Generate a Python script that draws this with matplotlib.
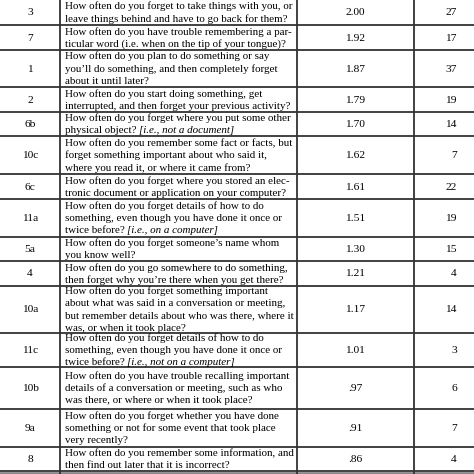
import matplotlib.pyplot as plt

plt.rcParams['font.family'] = ['Liberation Serif', 'DejaVu Serif']

ids = ["3", "7", "1", "2", "6b", "10c", "6c", "11a", "5a", "4", "10a", "11c", "10b", "9a", "8"]
questions = [
    "How often do you forget to take things with you, or\nleave things behind and have to go back for them?",
    "How often do you have trouble remembering a par-\nticular word (i.e. when on the tip of your tongue)?",
    "How often do you plan to do something or say\nyou\u2019ll do something, and then completely forget\nabout it until later?",
    "How often do you start doing something, get\ninterrupted, and then forget your previous activity?",
    "How often do you forget where you put some other\nphysical object? *[i.e., not a document]",
    "How often do you remember some fact or facts, but\nforget something important about who said it,\nwhere you read it, or where it came from?",
    "How often do you forget where you stored an elec-\ntronic document or application on your computer?",
    "How often do you forget details of how to do\nsomething, even though you have done it once or\ntwice before? *[i.e., on a computer]",
    "How often do you forget someone\u2019s name whom\nyou know well?",
    "How often do you go somewhere to do something,\nthen forget why you\u2019re there when you get there?",
    "How often do you forget something important\nabout what was said in a conversation or meeting,\nbut remember details about who was there, where it\nwas, or when it took place?",
    "How often do you forget details of how to do\nsomething, even though you have done it once or\ntwice before? *[i.e., not on a computer]",
    "How often do you have trouble recalling important\ndetails of a conversation or meeting, such as who\nwas there, or where or when it took place?",
    "How often do you forget whether you have done\nsomething or not for some event that took place\nvery recently?",
    "How often do you remember some information, and\nthen find out later that it is incorrect?",
]
means = ["2.00", "1.92", "1.87", "1.79", "1.70", "1.62", "1.61", "1.51", "1.30", "1.21", "1.17", "1.01", ".97", ".91", ".86"]
counts = ["27", "17", "37", "19", "14", "7", "22", "19", "15", "4", "14", "3", "6", "7", "4"]

# row boundaries in pixels (layout)
bounds = [-1, 25, 50, 87, 112, 136, 174, 199, 237, 261, 286, 333, 367, 409, 447, 471]
col_x = [60, 297, 414]
line_h = 12.4
fs = 7.9

fig = plt.figure(figsize=(4.74, 4.74), dpi=100)
ax = fig.add_axes([0, 0, 1, 1])
ax.set_xlim(0, 474)
ax.set_ylim(474, 0)
ax.axis('off')

for b in bounds:
    ax.plot([0, 474], [b, b], color='#333333', lw=1.3)
ax.plot([0, 474], [473, 473], color='#888888', lw=2)
for x in col_x:
    ax.plot([x, x], [-2, 474], color='#333333', lw=1.3)

for i in range(len(ids)):
    top, bot = bounds[i], bounds[i + 1]
    mid = (top + bot) / 2 + 0.5
    ax.text(30, mid, ids[i], ha='center', va='center', fontsize=8.2)
    ax.text(355, mid, means[i], ha='center', va='center', fontsize=8.2)
    ax.text(457, mid, counts[i], ha='right', va='center', fontsize=8.2)
    lines = questions[i].split("\n")
    y0 = mid - (len(lines) - 1) * line_h / 2
    for j, ln in enumerate(lines):
        y = y0 + j * line_h
        if "*" in ln:
            normal, ital = ln.split("*")
            t = ax.text(65, y, normal, ha='left', va='center', fontsize=fs)
            ax.annotate(ital, xy=(1, 0.5), xycoords=t, ha='left', va='center',
                        fontsize=fs, style='italic')
        else:
            ax.text(65, y, ln, ha='left', va='center', fontsize=fs)

fig.savefig("out.png", dpi=100)
